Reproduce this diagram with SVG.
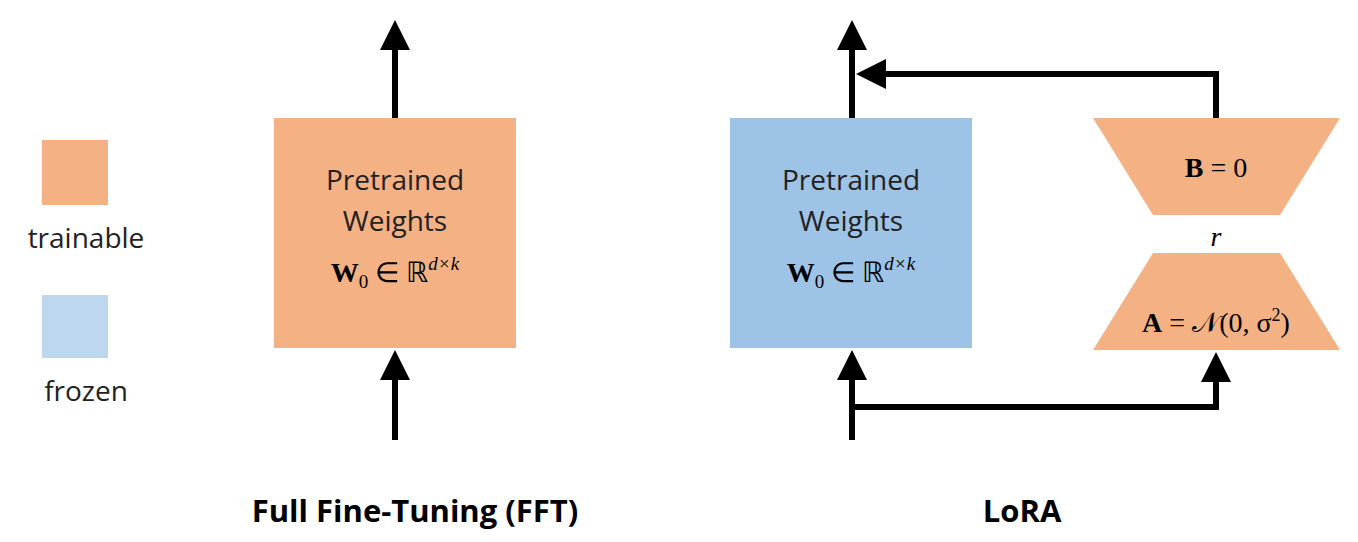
<svg xmlns="http://www.w3.org/2000/svg" width="1358" height="542" viewBox="0 0 1358 542">
<defs>
<marker id="ah" markerWidth="5" markerHeight="5" refX="4" refY="2.5" orient="auto" markerUnits="strokeWidth"><path d="M0,0 L5,2.5 L0,5 Z" fill="#000"/></marker>
<style>
.t{font-family:"Open Sans","Liberation Sans",sans-serif;font-size:28px;fill:#222;text-anchor:middle}
.m{font-family:"Liberation Serif",serif;font-size:28px;fill:#000;text-anchor:middle}
.h{font-family:"Open Sans","Liberation Sans",sans-serif;font-size:31px;font-weight:bold;fill:#000;text-anchor:middle}
.c{fill:none;stroke:#000;stroke-width:6}
</style>
</defs>
<rect width="1358" height="542" fill="#fff"/>
<g id="legend">
<rect x="42" y="140" width="66" height="65" fill="#F4B183"/>
<text class="t" x="86" y="248">trainable</text>
<rect x="42" y="295" width="66" height="63" fill="#BDD7EE"/>
<text class="t" x="86" y="401">frozen</text>
</g>
<g id="fft">
<rect x="274" y="118" width="242" height="230" fill="#F4B183"/>
<text class="t" x="395" y="190">Pretrained</text>
<text class="t" x="395" y="231">Weights</text>
<text class="m" x="395" y="282"><tspan font-weight="bold">W</tspan><tspan font-size="19" dy="6">0</tspan><tspan dy="-6"> ∈ ℝ</tspan><tspan font-size="19" font-style="italic" dy="-12">d×k</tspan></text>
</g>
<g id="lora-w">
<rect x="730" y="118" width="242" height="230" fill="#9DC3E6"/>
<text class="t" x="851" y="190">Pretrained</text>
<text class="t" x="851" y="231">Weights</text>
<text class="m" x="851" y="282"><tspan font-weight="bold">W</tspan><tspan font-size="19" dy="6">0</tspan><tspan dy="-6"> ∈ ℝ</tspan><tspan font-size="19" font-style="italic" dy="-12">d×k</tspan></text>
</g>
<g id="B">
<polygon points="1093,118 1340,118 1280,215 1153,215" fill="#F4B183"/>
<text class="m" x="1216" y="177"><tspan font-weight="bold">B</tspan> = 0</text>
</g>
<text class="m" x="1216" y="246" font-style="italic" font-size="26">r</text>
<g id="A">
<polygon points="1153,253 1280,253 1340,350 1093,350" fill="#F4B183"/>
<text class="m" x="1216" y="332"><tspan font-weight="bold">A</tspan> = 𝒩(0, σ<tspan font-size="18" dy="-11">2</tspan><tspan dy="11">)</tspan></text>
</g>
<g id="connectors">
<line class="c" x1="395" y1="118" x2="395" y2="26" marker-end="url(#ah)"/>
<line class="c" x1="395" y1="440" x2="395" y2="356" marker-end="url(#ah)"/>
<line class="c" x1="852" y1="118" x2="852" y2="26" marker-end="url(#ah)"/>
<polyline class="c" points="1216,118 1216,74 862,74" marker-end="url(#ah)"/>
<line class="c" x1="852" y1="440" x2="852" y2="356" marker-end="url(#ah)"/>
<polyline class="c" points="852,407 1216,407 1216,358" marker-end="url(#ah)"/>
</g>
<text class="h" x="415" y="522">Full Fine-Tuning (FFT)</text>
<text class="h" x="1022" y="522">LoRA</text>
</svg>
